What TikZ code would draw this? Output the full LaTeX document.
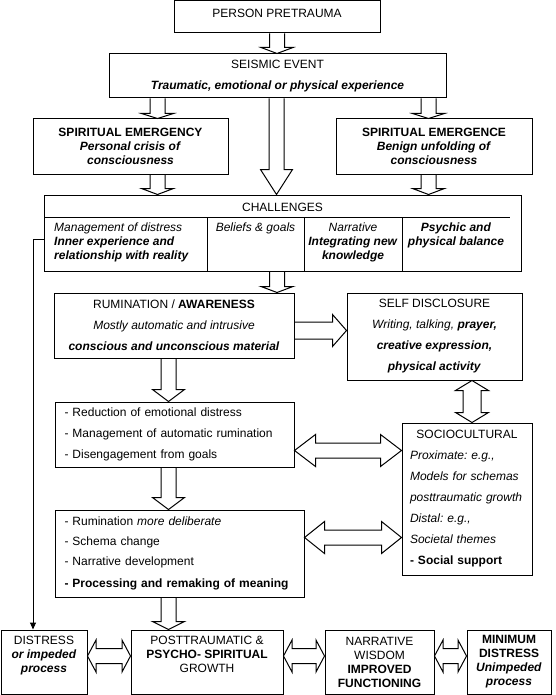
\documentclass[tikz,border=0pt]{standalone}
\usepackage{fontspec}
\setmainfont{Liberation Sans}
\usepackage{tikz}
\usetikzlibrary{calc,arrows.meta}
\frenchspacing

\tikzset{
  box/.style={draw, line width=1pt, inner sep=0pt, align=center, font=\fontsize{12}{14}\selectfont},
  lbox/.style={box, align=left, inner xsep=9.5pt},
  txt/.style={inner sep=0pt, font=\fontsize{12}{14}\selectfont},
  blockarrow/.style={draw, line width=1pt, line join=miter},
}

% hollow arrow pointing down, x taken from the source
\newcommand{\blockdown}[3][6]{%
  \draw[blockarrow] let \p1=(#2), \p2=(#3) in
    (\x1-7.5pt,\y1) -- (\x1-7.5pt,\y2+#1pt) -- (\x1-16pt,\y2+#1pt) -- (\x1,\y2)
    -- (\x1+16pt,\y2+#1pt) -- (\x1+7.5pt,\y2+#1pt) -- (\x1+7.5pt,\y1);}
% hollow arrow pointing right, y taken from the source
\newcommand{\blockright}[3][14]{%
  \draw[blockarrow] let \p1=(#2), \p2=(#3) in
    (\x1,\y1+8.5pt) -- (\x2-#1pt,\y1+8.5pt) -- (\x2-#1pt,\y1+16pt) -- (\x2,\y1)
    -- (\x2-#1pt,\y1-16pt) -- (\x2-#1pt,\y1-8.5pt) -- (\x1,\y1-8.5pt);}
% hollow double arrow, horizontal
\newcommand{\dblarrowh}[3][20]{%
  \draw[blockarrow] let \p1=(#2), \p2=(#3) in
    (\x1,\y1) -- (\x1+#1pt,\y1+16pt) -- (\x1+#1pt,\y1+7.5pt) -- (\x2-#1pt,\y1+7.5pt)
    -- (\x2-#1pt,\y1+16pt) -- (\x2,\y1) -- (\x2-#1pt,\y1-16pt) -- (\x2-#1pt,\y1-7.5pt)
    -- (\x1+#1pt,\y1-7.5pt) -- (\x1+#1pt,\y1-16pt) -- cycle;}
% hollow double arrow, vertical
\newcommand{\dblarrowv}[3][10]{%
  \draw[blockarrow] let \p1=(#2), \p2=(#3) in
    (\x1,\y1) -- (\x1+16.5pt,\y1-#1pt) -- (\x1+9pt,\y1-#1pt) -- (\x1+9pt,\y2+#1pt)
    -- (\x1+16.5pt,\y2+#1pt) -- (\x1,\y2) -- (\x1-16.5pt,\y2+#1pt) -- (\x1-9pt,\y2+#1pt)
    -- (\x1-9pt,\y1-#1pt) -- (\x1-16.5pt,\y1-#1pt) -- cycle;}

\begin{document}
\begin{tikzpicture}[x=1pt,y=-1pt]
\useasboundingbox (0,0) rectangle (555,695);

%Shape: Rectangle
\node[box, minimum width=206pt, minimum height=32pt, text depth=8pt] (pre) at (277,17) {PERSON PRETRAUMA};
%Shape: Rectangle
\node[box, minimum width=337pt, minimum height=44pt] (seis) at (277.5,76) {SEISMIC EVENT\\[7pt]\textbf{\textit{Traumatic, emotional or physical experience}}};
%Shape: Rectangle
\node[box, minimum width=195pt, minimum height=55pt] (emy) at (130.5,146.5) {\textbf{SPIRITUAL EMERGENCY}\\\textbf{\textit{Personal crisis of}}\\\textbf{\textit{consciousness}}};
%Shape: Rectangle
\node[box, minimum width=196pt, minimum height=55pt] (emc) at (434,146.5) {\textbf{SPIRITUAL EMERGENCE}\\\textbf{\textit{Benign unfolding of}}\\\textbf{\textit{consciousness}}};
%Shape: Rectangle
\node[box, minimum width=477pt, minimum height=76pt] (chal) at (282.5,233) {};
%Shape: Rectangle
\node[box, minimum width=240pt, minimum height=65pt] (rum) at (174,325.5) {RUMINATION / \textbf{AWARENESS}\\[7pt]\textit{Mostly automatic and intrusive}\\[7pt]\textbf{\textit{conscious and unconscious material}}};
%Shape: Rectangle
\node[box, minimum width=175pt, minimum height=87pt] (self) at (434.5,336.5) {SELF DISCLOSURE\\[7pt]\textit{Writing, talking, \textbf{prayer,}}\\[7pt]\textbf{\textit{creative expression,}}\\[7pt]\textbf{\textit{physical activity}}};
%Shape: Rectangle
\node[lbox, text width=220pt, minimum height=65pt] (red) at (174.5,434.5) {- Reduction of emotional distress\\[7pt]- Management of automatic rumination\\[7pt]- Disengagement from goals};
%Shape: Rectangle
\node[lbox, text width=114pt, inner xsep=8pt, minimum height=152pt] (soc) at (467,499) {\makebox[\hsize]{SOCIOCULTURAL}\\[7pt]\textit{Proximate: e.g.,}\\[7pt]\textit{Models for schemas}\\[7pt]\textit{posttraumatic growth}\\[7pt]\textit{Distal: e.g.,}\\[7pt]\textit{Societal themes}\\[7pt]\textbf{- Social support}};
%Shape: Rectangle
\node[lbox, text width=230pt, minimum height=87pt] (del) at (179.5,553.5) {- Rumination \textit{more deliberate}\\[6pt]- Schema change\\[6pt]- Narrative development\\[8pt]\textbf{- Processing and remaking of meaning}};
%Shape: Rectangle
\node[box, minimum width=86pt, minimum height=64pt, text depth=16pt] (dis) at (44,662) {DISTRESS\\\textbf{\textit{or impeded}}\\\textbf{\textit{process}}};
%Shape: Rectangle
\node[box, minimum width=152pt, minimum height=64pt, text depth=16pt] (post) at (207,662) {POSTTRAUMATIC \&\\\textbf{PSYCHO- SPIRITUAL}\\GROWTH};
%Shape: Rectangle
\node[box, minimum width=109pt, minimum height=64pt] (narr) at (379.5,662) {NARRATIVE\\WISDOM\\\textbf{IMPROVED}\\\textbf{FUNCTIONING}};
%Shape: Rectangle
\node[box, minimum width=84pt, minimum height=64pt] (mind) at (509,662) {\textbf{MINIMUM}\\\textbf{DISTRESS}\\\textbf{\textit{Unimpeded}}\\\textbf{\textit{process}}};

%Straight Lines
\draw[line width=1pt] (44,217) -- (510,217);
%Straight Lines
\draw[line width=1pt] (207,217) -- (207,271);
%Straight Lines
\draw[line width=1pt] (304,217) -- (304,271);
%Straight Lines
\draw[line width=1pt] (402,217) -- (402,271);

% Text Node
\node[txt] (chaltitle) at (282.5,207) {CHALLENGES};
% Text Node
\node[txt, anchor=west, align=left] (distcell) at (54,242) {\textit{Management of distress}\\\textbf{\textit{Inner experience and}}\\\textbf{\textit{relationship with reality}}};
% Text Node
\node[txt] (goalcell) at (255.5,228) {\textit{Beliefs \& goals}};
% Text Node
\node[txt, align=center] (narrcell) at (353,242) {\textit{Narrative}\\\textbf{\textit{Integrating new}}\\\textbf{\textit{knowledge}}};
% Text Node
\node[txt, align=center] (balcell) at (456,235) {\textbf{\textit{Psychic and}}\\\textbf{\textit{physical balance}}};

%Block Arrows
\blockdown{pre.south}{seis.north}
\blockdown[5]{[xshift=-120pt]seis.south}{emy.north}
\blockdown[5]{[xshift=151pt]seis.south}{emc.north}
\blockdown[25]{[xshift=-1pt]seis.south}{chal.north}
\blockdown{[xshift=27pt]emy.south}{chal.north}
\blockdown{[xshift=-5.5pt]emc.south}{chal.north}
\blockdown{[xshift=-5.5pt]chal.south}{rum.north}
\blockdown[12]{[xshift=-5.5pt]rum.south}{red.north}
\blockdown[12]{[xshift=-6pt]red.south}{del.north}
\blockdown[8]{[xshift=-11pt]del.south}{post.north}
\blockright{[yshift=-5pt]rum.east}{self.west}
\dblarrowv[10]{[xshift=37.5pt]self.south}{soc.north}
\dblarrowh[21]{[yshift=-16pt]red.east}{soc.west}
\dblarrowh[20]{[yshift=16pt]del.east}{soc.west}
\dblarrowh[8.5]{[yshift=6pt]dis.east}{post.west}
\dblarrowh[8.5]{[yshift=6pt]post.east}{narr.west}
\dblarrowh[8.5]{[yshift=6pt]narr.east}{mind.west}

%Straight Lines
\draw[line width=1pt, -{Triangle[length=7pt,width=6pt]}] ([yshift=-6pt]chal.west) -| ([xshift=-11pt]dis.north);

\end{tikzpicture}
\end{document}
